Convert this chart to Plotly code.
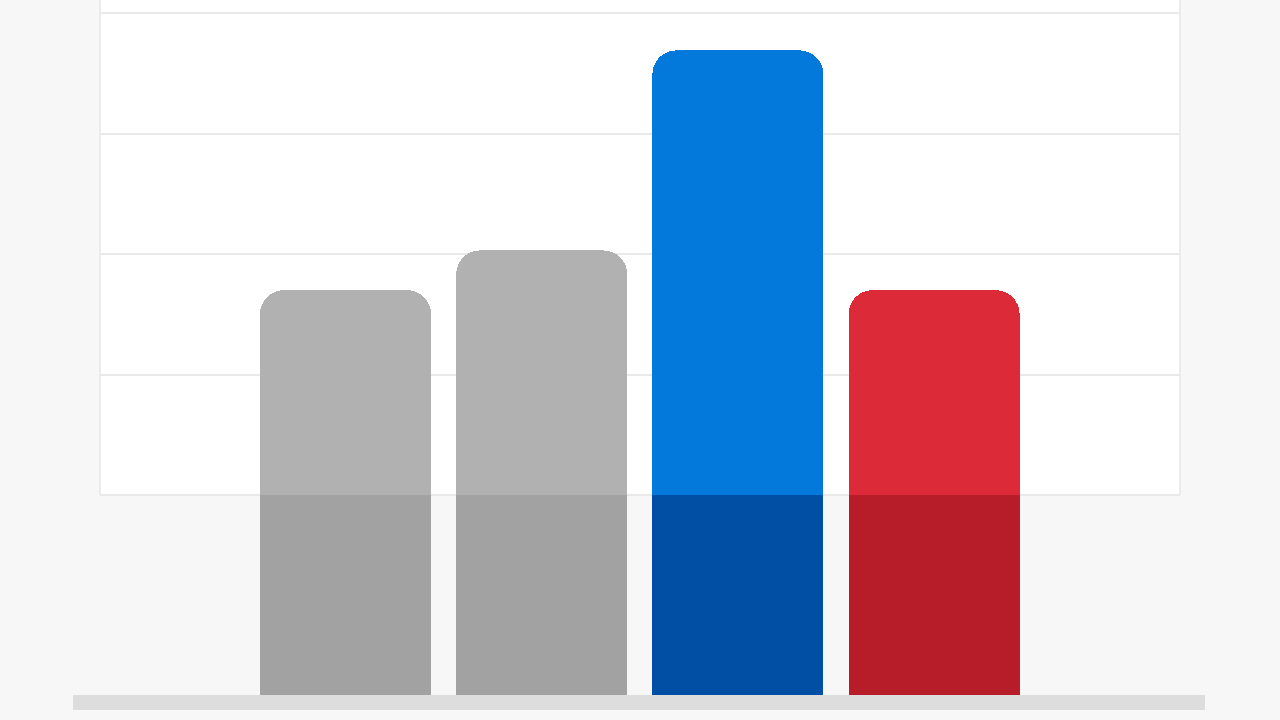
import plotly.graph_objects as go

# Bar data (arbitrary units)
categories = ["A", "B", "C", "D"]
values = [3.36, 3.69, 5.35, 3.36]

# level where the white panel ends; bars are shaded darker below it
panel_floor = 1.66
grid_values = [1.66, 2.66, 3.66, 4.66, 5.66]

# colours for the upper and lower part of each bar
top_colors = ["#b1b1b1", "#b1b1b1", "#0479dc", "#dd2a38"]
bottom_colors = ["#a2a2a2", "#a2a2a2", "#004fa5", "#b71d28"]

lower_part = [min(v, panel_floor) for v in values]
upper_part = [v - lo for v, lo in zip(values, lower_part)]

fig = go.Figure()

# lower (darker) section of each bar
fig.add_trace(go.Bar(
    x=categories,
    y=lower_part,
    marker=dict(color=bottom_colors, line_width=0, cornerradius=24),
    hoverinfo="skip",
))

# upper section, rounded on top
fig.add_trace(go.Bar(
    x=categories,
    y=upper_part,
    marker=dict(color=top_colors, line_width=0, cornerradius=24),
    customdata=values,
    hovertemplate="%{x}: %{customdata}<extra></extra>",
))

# white panel behind the bars, its side edges, and the base strip
panel_left, panel_right = 100 / 1280, 1180 / 1280
shapes = [
    dict(type="rect", xref="paper", yref="y", x0=panel_left, x1=panel_right,
         y0=panel_floor, y1=6.2, fillcolor="white", line_width=0, layer="below"),
    dict(type="line", xref="paper", yref="y", x0=panel_left, x1=panel_left,
         y0=panel_floor, y1=6.2, line=dict(color="#e6e6e6", width=1.5), layer="below"),
    dict(type="line", xref="paper", yref="y", x0=panel_right, x1=panel_right,
         y0=panel_floor, y1=6.2, line=dict(color="#e6e6e6", width=1.5), layer="below"),
    dict(type="rect", xref="paper", yref="y", x0=73 / 1280, x1=1205 / 1280,
         y0=-0.125, y1=0, fillcolor="#dddddd", line_width=0, layer="below"),
]

fig.update_layout(
    width=1280,
    height=720,
    barmode="stack",
    bargap=0.128,
    showlegend=False,
    margin=dict(l=0, r=0, t=0, b=0),
    paper_bgcolor="#f7f7f7",
    plot_bgcolor="rgba(0,0,0,0)",
    shapes=shapes,
    xaxis=dict(
        domain=[panel_left, panel_right],
        range=[-1.2513, 4.2533],
        showticklabels=False,
        showgrid=False,
        zeroline=False,
        ticks="",
    ),
    yaxis=dict(
        range=[-0.207, 5.768],
        tickvals=grid_values,
        showticklabels=False,
        showgrid=True,
        gridcolor="#e9e9e9",
        gridwidth=1.5,
        zeroline=False,
        ticks="",
    ),
)

# drop the page margin so the figure sits at the window's corner
fig.write_html(
    "out.html",
    config={"displayModeBar": False},
    post_script="document.body.style.margin='0';document.body.style.overflow='hidden';",
)
